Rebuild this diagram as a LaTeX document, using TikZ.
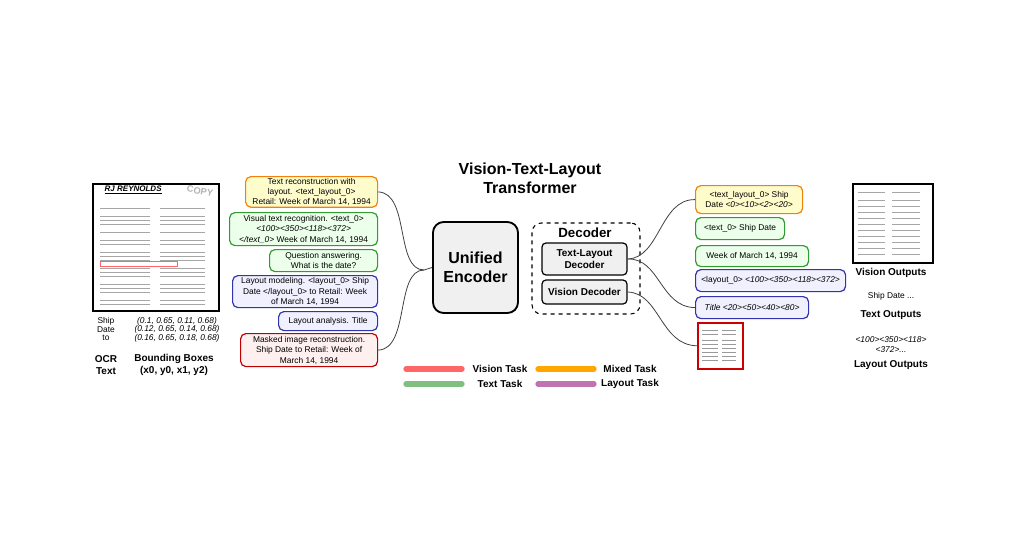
\documentclass[tikz,border=0pt]{standalone}
\usepackage{fontspec}
\setmainfont{Liberation Sans}
\begin{document}
\begin{tikzpicture}[x=0.75pt,y=-0.75pt,
 box/.style={draw,rounded corners=4pt,line width=0.9pt,align=center,font=\fontsize{6.3}{7.8}\selectfont,inner sep=1pt,anchor=north west},
 sz/.style 2 args={minimum width=0.75*#1pt,minimum height=0.75*#2pt},
 yel/.style={box,draw=orange!80!brown,fill=yellow!20},
 grn/.style={box,draw=green!50!black!80,fill=green!8},
 blu/.style={box,draw=blue!60!black!80,fill=blue!6},
 redb/.style={box,draw=red!75!black,fill=red!6},
 con/.style={line width=0.6pt,black!75},
 lbl/.style={font=\fontsize{6.3}{7.5}\selectfont,align=center},
 ilbl/.style={font=\itshape\fontsize{6.3}{7.5}\selectfont,align=center},
 blbl/.style={font=\bfseries\fontsize{7.5}{9}\selectfont,align=center},
 leg/.style={line width=4pt,line cap=round}]
\useasboundingbox (0,0) rectangle (1024,550);
% left document
\node[draw,line width=1.2pt,sz={126}{127},anchor=north west,inner sep=0] (doc) at (92,183) {};
\node[font=\bfseries\itshape\fontsize{6}{6}\selectfont,anchor=west] (rj) at (100,190) {\underline{RJ REYNOLDS}};
\node[font=\bfseries\fontsize{7}{7}\selectfont,text=black!30,rotate=-10] (cp) at (200,191) {COPY};
\foreach \y in {208,216,220,224,232,240,244,252,256,260,268,272,276,284,288,292,300,304}{\draw[black!35,line width=0.6pt] (100,\y) -- (150,\y); \draw[black!35,line width=0.6pt] (160,\y) -- (205,\y);}
\draw[red!60,line width=0.6pt] (100,261) rectangle (177,266);
\node[lbl] (ship) at (106,321) {Ship};
\node[lbl] (date) at (106,329.5) {Date};
\node[lbl] (to) at (106,338) {to};
\node[ilbl] (b1) at (177,321) {(0.1, 0.65, 0.11, 0.68)};
\node[ilbl] (b2) at (177,329.5) {(0.12, 0.65, 0.14, 0.68)};
\node[ilbl] (b3) at (177,338) {(0.16, 0.65, 0.18, 0.68)};
\node[blbl] (ocr) at (106,365) {OCR\\Text};
\node[blbl] (bb) at (174,365) {Bounding Boxes\\(x0, y0, x1, y2)};
% left boxes
\node[yel,sz={132}{29}] (l1) at (245,176) {Text reconstruction with\\layout. <text\_layout\_0>\\Retail: Week of March 14, 1994};
\node[grn,sz={148}{33}] (l2) at (229,212) {Visual text recognition. <text\_0>\\\textit{<100><350><118><372>}\\\textit{</text\_0>} Week of March 14, 1994};
\node[grn,sz={108}{22}] (l3) at (269,249) {Question answering.\\What is the date?};
\node[blu,sz={145}{32}] (l4) at (232,275) {Layout modeling. <layout\_0> Ship\\Date </layout\_0> to Retail: Week\\of March 14, 1994};
\node[blu,sz={99}{19}] (l5) at (278,311) {Layout analysis. Title};
\node[redb,sz={137}{33}] (l6) at (240,333) {Masked image reconstruction.\\Ship Date to Retail: Week of\\March 14, 1994};
% encoder
\node[draw,line width=1.4pt,rounded corners=8pt,fill=black!6,sz={85}{91},font=\bfseries\fontsize{12}{14}\selectfont,align=center] (enc) at (475.5,267.5) {Unified\\Encoder};
\coordinate (join) at (424,270);
\draw[con] (l1.east) .. controls (410,193) and (395,270) .. (join);
\draw[con] (l6.east) .. controls (410,349) and (395,270) .. (join);
\draw[con] (join) -- (enc.west);
% decoder
\node[draw,dashed,line width=0.8pt,rounded corners=7pt,sz={108}{91}] (dec) at (586,268.5) {};
\node[font=\bfseries\fontsize{10}{12}\selectfont] (dect) at (585,233) {Decoder};
\node[draw,line width=0.9pt,rounded corners=3pt,fill=black!6,sz={85}{32},align=center,font=\bfseries\fontsize{7.5}{8.5}\selectfont] (tld) at (584.5,259) {Text-Layout\\Decoder};
\node[draw,line width=0.9pt,rounded corners=3pt,fill=black!6,sz={85}{24},font=\bfseries\fontsize{7.5}{8.5}\selectfont] (vd) at (584.5,292) {Vision Decoder};
\node[font=\bfseries\fontsize{12}{14}\selectfont,align=center] (title) at (530,178) {Vision-Text-Layout\\Transformer};
% right boxes
\node[yel,sz={107}{28}] (r1) at (695,185) {<text\_layout\_0> Ship\\Date \textit{<0><10><2><20>}};
\node[grn,sz={89}{22}] (r2) at (695,217) {<text\_0> Ship Date};
\node[grn,sz={113}{21}] (r3) at (695,245) {Week of March 14, 1994};
\node[blu,sz={150}{22}] (r4) at (695,269) {<layout\_0> \textit{<100><350><118><372>}};
\node[blu,sz={113}{22}] (r5) at (695,296) {\textit{Title <20><50><40><80>}};
\node[draw=red!80!black,line width=1.2pt,sz={45}{46},anchor=north west,inner sep=0] (r6) at (697,322) {};
\foreach \y in {330,334,340,344,348,352,356,360}{\draw[black!40,line width=0.4pt] (702,\y) -- (718,\y); \draw[black!40,line width=0.4pt] (722,\y) -- (736,\y);}
\draw[con] (tld.east) .. controls (660,258) and (660,199) .. (r1.west);
\draw[con] (tld.east) .. controls (660,258) and (660,307) .. (r5.west);
\draw[con] (vd.east) .. controls (660,293) and (660,345) .. (r6.west);
% right outputs
\node[draw,line width=1.2pt,sz={80}{79},anchor=north west,inner sep=0] (vo) at (852,183) {};
\foreach \y in {192,200,206,212,218,224,230,236,242,248,254}{\draw[black!35,line width=0.5pt] (858,\y) -- (885,\y); \draw[black!35,line width=0.5pt] (892,\y) -- (920,\y);}
\node[blbl] (vot) at (891,273) {Vision Outputs};
\node[lbl] (sd) at (891,296) {Ship Date ...};
\node[blbl] (tot) at (891,315) {Text Outputs};
\node[ilbl] (lo) at (891,345) {<100><350><118>\\<372>...};
\node[blbl] (lot) at (891,365) {Layout Outputs};
% legend
\coordinate (v1) at (406,369); \coordinate (v2) at (462,369);
\coordinate (t1) at (406,384); \coordinate (t2) at (462,384);
\coordinate (m1) at (538,369); \coordinate (m2) at (594,369);
\coordinate (y1) at (538,384); \coordinate (y2) at (594,384);
\draw[leg,red!60!white] (v1) -- (v2);
\draw[leg,green!50!black!50] (t1) -- (t2);
\draw[leg,orange!70!yellow] (m1) -- (m2);
\draw[leg,blue!45!red!55] (y1) -- (y2);
\node[blbl] (vt) at (500,369) {Vision Task};
\node[blbl] (tt) at (500,384) {Text Task};
\node[blbl] (mt) at (630,369) {Mixed Task};
\node[blbl] (lt) at (630,384) {Layout Task};
\end{tikzpicture}
\end{document}
